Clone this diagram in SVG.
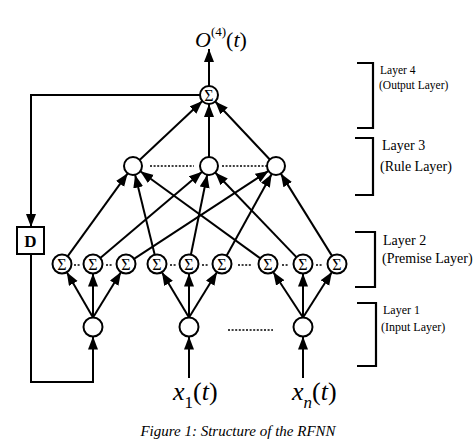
<svg xmlns="http://www.w3.org/2000/svg" width="474" height="440" viewBox="0 0 474 440">
<defs>
<marker id="ah" markerUnits="userSpaceOnUse" markerWidth="14" markerHeight="11" refX="13" refY="5" orient="auto">
<path d="M0,0 L13,5 L0,10 z" fill="#000"/>
</marker>
<style>
.n{fill:#fff;stroke:#000;stroke-width:2}
.e{stroke:#000;stroke-width:2;fill:none;marker-end:url(#ah)}
.dot{stroke:#000;stroke-width:1.6;stroke-dasharray:2 1.6;fill:none}
.br{stroke:#000;stroke-width:2.2;fill:none}
.sg{font-family:"Liberation Serif",serif;font-size:16px;text-anchor:middle}
.lab{font-family:"Liberation Serif",serif;fill:#000}
.m{font-family:"Liberation Serif",serif;font-style:italic;fill:#000}
</style>
</defs>
<rect width="474" height="440" fill="#fff"/>
<g id="connectors">
<line class="e" x1="209" y1="86" x2="209" y2="49"/>
<line class="e" x1="139.6" y1="159.9" x2="202.4" y2="101.1"/>
<line class="e" x1="209" y1="157" x2="209" y2="104"/>
<line class="e" x1="269.8" y1="159.5" x2="215.2" y2="101.5"/>
<line class="e" x1="67.6" y1="256.3" x2="127.7" y2="173.3"/>
<line class="e" x1="100.3" y1="257.9" x2="202.1" y2="171.8"/>
<line class="e" x1="134" y1="258.8" x2="268.5" y2="170.9"/>
<line class="e" x1="154.7" y1="254.8" x2="135.1" y2="174.7"/>
<line class="e" x1="190.9" y1="254.7" x2="207.2" y2="174.8"/>
<line class="e" x1="226.6" y1="255.7" x2="271.7" y2="173.9"/>
<line class="e" x1="260.3" y1="258.4" x2="140.3" y2="171.3"/>
<line class="e" x1="296.4" y1="257.1" x2="215.2" y2="172.5"/>
<line class="e" x1="332" y1="255.9" x2="280.8" y2="173.6"/>
<line class="e" x1="93" y1="317.5" x2="66.8" y2="272.2"/>
<line class="e" x1="93" y1="317.5" x2="93" y2="273.5"/>
<line class="e" x1="93" y1="317.5" x2="121" y2="272.1"/>
<line class="e" x1="189" y1="317.5" x2="161.9" y2="272.2"/>
<line class="e" x1="189" y1="317.5" x2="189" y2="273.5"/>
<line class="e" x1="189" y1="317.5" x2="217" y2="272.1"/>
<line class="e" x1="303" y1="317.5" x2="273.2" y2="272"/>
<line class="e" x1="303" y1="317.5" x2="303" y2="273.5"/>
<line class="e" x1="303" y1="317.5" x2="331.9" y2="272"/>
<line class="e" x1="189" y1="378" x2="189" y2="336.5"/>
<line class="e" x1="303" y1="378" x2="303" y2="336.5"/>
<path class="e" d="M200,95 H31 V227"/>
<path class="e" d="M31,254 V382 H93 V336.5"/>
<line class="dot" x1="150" y1="166" x2="194" y2="166"/>
<line class="dot" x1="222" y1="166" x2="267" y2="166"/>
<line class="dot" x1="74" y1="265" x2="81" y2="265"/>
<line class="dot" x1="106" y1="265" x2="113" y2="265"/>
<line class="dot" x1="170" y1="265" x2="177" y2="265"/>
<line class="dot" x1="202" y1="265" x2="209" y2="265"/>
<line class="dot" x1="238" y1="265" x2="252" y2="265"/>
<line class="dot" x1="282" y1="265" x2="289" y2="265"/>
<line class="dot" x1="316" y1="265" x2="323" y2="265"/>
<line class="dot" x1="228" y1="330" x2="273" y2="330"/>
</g>
<g id="out"><circle class="n" cx="209" cy="95" r="9"/><text class="sg" x="209" y="100.5">Σ</text></g>
<g id="r1"><circle class="n" cx="133" cy="166" r="9"/></g>
<g id="r2"><circle class="n" cx="209" cy="166" r="9"/></g>
<g id="r3"><circle class="n" cx="276" cy="166" r="9"/></g>
<g id="s1"><circle class="n" cx="62" cy="264" r="9.5"/><text class="sg" x="62" y="269.5">Σ</text></g>
<g id="s2"><circle class="n" cx="93" cy="264" r="9.5"/><text class="sg" x="93" y="269.5">Σ</text></g>
<g id="s3"><circle class="n" cx="126" cy="264" r="9.5"/><text class="sg" x="126" y="269.5">Σ</text></g>
<g id="s4"><circle class="n" cx="157" cy="264" r="9.5"/><text class="sg" x="157" y="269.5">Σ</text></g>
<g id="s5"><circle class="n" cx="189" cy="264" r="9.5"/><text class="sg" x="189" y="269.5">Σ</text></g>
<g id="s6"><circle class="n" cx="222" cy="264" r="9.5"/><text class="sg" x="222" y="269.5">Σ</text></g>
<g id="s7"><circle class="n" cx="268" cy="264" r="9.5"/><text class="sg" x="268" y="269.5">Σ</text></g>
<g id="s8"><circle class="n" cx="303" cy="264" r="9.5"/><text class="sg" x="303" y="269.5">Σ</text></g>
<g id="s9"><circle class="n" cx="337" cy="264" r="9.5"/><text class="sg" x="337" y="269.5">Σ</text></g>
<g id="i1"><circle class="n" cx="93" cy="327" r="9.5"/></g>
<g id="i2"><circle class="n" cx="189" cy="327" r="9.5"/></g>
<g id="i3"><circle class="n" cx="303" cy="327" r="9.5"/></g>
<g id="delay"><rect x="17" y="227" width="27" height="27" fill="#fff" stroke="#000" stroke-width="2"/><text x="30.5" y="246.5" text-anchor="middle" font-family="Liberation Serif,serif" font-weight="bold" font-size="17">D</text></g>
<g id="layers">
<path class="br" d="M357,63 H373 V128 H357"/>
<path class="br" d="M355,138 H373 V195 H355"/>
<path class="br" d="M355,232 H375 V287 H355"/>
<path class="br" d="M357,303 H376 V366 H357"/>
<text class="lab" x="380" y="74" font-size="11.5">Layer 4</text>
<text class="lab" x="379" y="89" font-size="11.5">(Output Layer)</text>
<text class="lab" x="382" y="150" font-size="14">Layer 3</text>
<text class="lab" x="380" y="171" font-size="14">(Rule Layer)</text>
<text class="lab" x="383" y="245" font-size="14">Layer 2</text>
<text class="lab" x="382" y="263" font-size="14">(Premise Layer)</text>
<text class="lab" x="383" y="314" font-size="12">Layer 1</text>
<text class="lab" x="381" y="331" font-size="12">(Input Layer)</text>
</g>
<g id="labels">
<text class="m" x="195" y="47" font-size="22">O<tspan font-size="13" font-style="normal" dy="-11">(4)</tspan><tspan dy="11" font-style="normal">(</tspan>t<tspan font-style="normal">)</tspan></text>
<text class="m" x="173" y="400" font-size="26">x<tspan font-size="17" font-style="normal" dy="8">1</tspan><tspan dy="-8" font-style="normal">(</tspan>t<tspan font-style="normal">)</tspan></text>
<text class="m" x="292" y="400" font-size="26">x<tspan font-size="17" dy="8">n</tspan><tspan dy="-8" font-style="normal">(</tspan>t<tspan font-style="normal">)</tspan></text>
<text class="m" x="238" y="436" font-size="15" text-anchor="middle">Figure 1: Structure of the RFNN</text>
</g>
</svg>
